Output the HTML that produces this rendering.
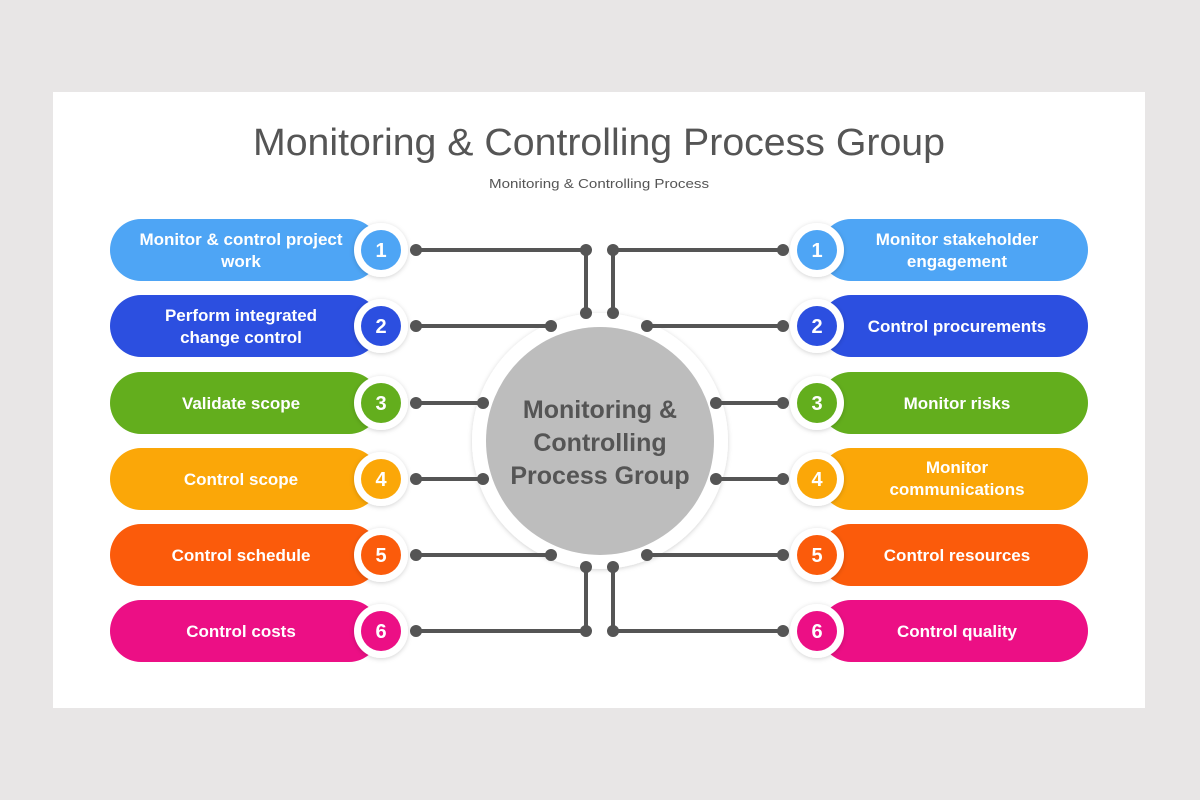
<!DOCTYPE html>
<html><head><meta charset="utf-8"><style>
html,body{margin:0;padding:0;background:#e8e6e6;}
svg{display:block;font-family:"Liberation Sans",Arial,sans-serif;}
</style></head><body>
<svg width="1200" height="800" viewBox="0 0 1200 800" xmlns="http://www.w3.org/2000/svg">
<defs>
<filter id="sh" x="-20%" y="-20%" width="140%" height="140%"><feDropShadow dx="0" dy="1" stdDeviation="2.5" flood-color="#000" flood-opacity="0.18"/></filter>
</defs>
<rect x="0" y="0" width="1200" height="800" fill="#e8e6e6"/>
<rect x="53" y="92" width="1092" height="616" fill="#fff"/>
<text x="599" y="155" text-anchor="middle" font-size="38" fill="#555" textLength="692" lengthAdjust="spacingAndGlyphs">Monitoring &amp; Controlling Process Group</text>
<text x="599" y="188" text-anchor="middle" font-size="13" fill="#555" textLength="220" lengthAdjust="spacingAndGlyphs">Monitoring  &amp; Controlling  Process</text>

<circle cx="600" cy="441" r="128" fill="#fff" filter="url(#sh)"/>
<circle cx="600" cy="441" r="114" fill="#bdbdbd"/>
<g font-size="25" font-weight="bold" fill="#555" text-anchor="middle">
<text x="600" y="418">Monitoring &amp;</text>
<text x="600" y="451">Controlling</text>
<text x="600" y="484">Process Group</text>
</g>

<g stroke="#555" stroke-width="4" fill="none">
<polyline points="416,250 586,250 586,313"/>
<line x1="416" y1="326" x2="551" y2="326"/>
<line x1="416" y1="403" x2="483" y2="403"/>
<line x1="416" y1="479" x2="483" y2="479"/>
<line x1="416" y1="555" x2="551" y2="555"/>
<polyline points="416,631 586,631 586,567"/>
<polyline points="783,250 613,250 613,313"/>
<line x1="783" y1="326" x2="647" y2="326"/>
<line x1="783" y1="403" x2="716" y2="403"/>
<line x1="783" y1="479" x2="716" y2="479"/>
<line x1="783" y1="555" x2="647" y2="555"/>
<polyline points="783,631 613,631 613,567"/>
</g>
<g fill="#555">
<circle cx="416" cy="250" r="6"/><circle cx="586" cy="250" r="6"/><circle cx="586" cy="313" r="6"/>
<circle cx="416" cy="326" r="6"/><circle cx="551" cy="326" r="6"/>
<circle cx="416" cy="403" r="6"/><circle cx="483" cy="403" r="6"/>
<circle cx="416" cy="479" r="6"/><circle cx="483" cy="479" r="6"/>
<circle cx="416" cy="555" r="6"/><circle cx="551" cy="555" r="6"/>
<circle cx="416" cy="631" r="6"/><circle cx="586" cy="631" r="6"/><circle cx="586" cy="567" r="6"/>
<circle cx="783" cy="250" r="6"/><circle cx="613" cy="250" r="6"/><circle cx="613" cy="313" r="6"/>
<circle cx="783" cy="326" r="6"/><circle cx="647" cy="326" r="6"/>
<circle cx="783" cy="403" r="6"/><circle cx="716" cy="403" r="6"/>
<circle cx="783" cy="479" r="6"/><circle cx="716" cy="479" r="6"/>
<circle cx="783" cy="555" r="6"/><circle cx="647" cy="555" r="6"/>
<circle cx="783" cy="631" r="6"/><circle cx="613" cy="631" r="6"/><circle cx="613" cy="567" r="6"/>
</g>

<g>
<rect x="110" y="219" width="270" height="62" rx="31" fill="#4ea5f5"/>
<rect x="110" y="295" width="270" height="62" rx="31" fill="#2c4fe0"/>
<rect x="110" y="372" width="270" height="62" rx="31" fill="#63ae1d"/>
<rect x="110" y="448" width="270" height="62" rx="31" fill="#fba708"/>
<rect x="110" y="524" width="270" height="62" rx="31" fill="#fb5b0b"/>
<rect x="110" y="600" width="270" height="62" rx="31" fill="#ec0f85"/>
<rect x="820" y="219" width="268" height="62" rx="31" fill="#4ea5f5"/>
<rect x="820" y="295" width="268" height="62" rx="31" fill="#2c4fe0"/>
<rect x="820" y="372" width="268" height="62" rx="31" fill="#63ae1d"/>
<rect x="820" y="448" width="268" height="62" rx="31" fill="#fba708"/>
<rect x="820" y="524" width="268" height="62" rx="31" fill="#fb5b0b"/>
<rect x="820" y="600" width="268" height="62" rx="31" fill="#ec0f85"/>
</g>
<g fill="#fff" filter="url(#sh)">
<circle cx="381" cy="250" r="27"/><circle cx="381" cy="326" r="27"/><circle cx="381" cy="403" r="27"/>
<circle cx="381" cy="479" r="27"/><circle cx="381" cy="555" r="27"/><circle cx="381" cy="631" r="27"/>
<circle cx="817" cy="250" r="27"/><circle cx="817" cy="326" r="27"/><circle cx="817" cy="403" r="27"/>
<circle cx="817" cy="479" r="27"/><circle cx="817" cy="555" r="27"/><circle cx="817" cy="631" r="27"/>
</g>
<circle cx="381" cy="250" r="20" fill="#4ea5f5"/><circle cx="817" cy="250" r="20" fill="#4ea5f5"/>
<circle cx="381" cy="326" r="20" fill="#2c4fe0"/><circle cx="817" cy="326" r="20" fill="#2c4fe0"/>
<circle cx="381" cy="403" r="20" fill="#63ae1d"/><circle cx="817" cy="403" r="20" fill="#63ae1d"/>
<circle cx="381" cy="479" r="20" fill="#fba708"/><circle cx="817" cy="479" r="20" fill="#fba708"/>
<circle cx="381" cy="555" r="20" fill="#fb5b0b"/><circle cx="817" cy="555" r="20" fill="#fb5b0b"/>
<circle cx="381" cy="631" r="20" fill="#ec0f85"/><circle cx="817" cy="631" r="20" fill="#ec0f85"/>
<g fill="#fff" font-size="20" font-weight="bold" text-anchor="middle">
<text x="381" y="257">1</text><text x="817" y="257">1</text>
<text x="381" y="333">2</text><text x="817" y="333">2</text>
<text x="381" y="410">3</text><text x="817" y="410">3</text>
<text x="381" y="486">4</text><text x="817" y="486">4</text>
<text x="381" y="562">5</text><text x="817" y="562">5</text>
<text x="381" y="638">6</text><text x="817" y="638">6</text>
</g>
<g fill="#fff" font-size="17" font-weight="bold" text-anchor="middle">
<text x="241" y="245">Monitor &amp; control project</text>
<text x="241" y="267">work</text>
<text x="241" y="321">Perform integrated</text>
<text x="241" y="343">change control</text>
<text x="241" y="409">Validate scope</text>
<text x="241" y="485">Control scope</text>
<text x="241" y="561">Control schedule</text>
<text x="241" y="637">Control costs</text>
<text x="957" y="245">Monitor stakeholder</text>
<text x="957" y="267">engagement</text>
<text x="957" y="332">Control procurements</text>
<text x="957" y="409">Monitor risks</text>
<text x="957" y="473">Monitor</text>
<text x="957" y="495">communications</text>
<text x="957" y="561">Control resources</text>
<text x="957" y="637">Control quality</text>
</g>
</svg>
</body></html>
